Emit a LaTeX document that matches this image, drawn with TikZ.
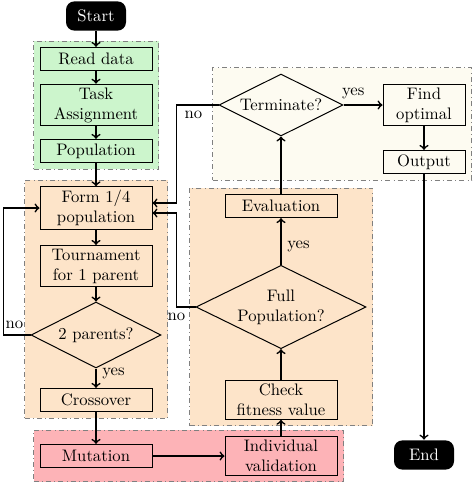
\documentclass[tikz,border=0pt]{standalone}
\usepackage[dvipsnames]{xcolor}
\usetikzlibrary{shapes,calc,fit,backgrounds}

\definecolor{greenbg}{HTML}{CCF5CC}
\definecolor{orangebg}{HTML}{FDE4C9}
\definecolor{pinkbg}{HTML}{FDB3B7}
\definecolor{creambg}{HTML}{FDFBF1}

\begin{document}
\begin{tikzpicture}[->,>=to,line width=1pt,x=0.6pt,y=-0.6pt,
    box node/.style={semithick,draw,rectangle,align=center,minimum width=67.2pt,minimum height=14pt,inner sep=2pt},
    test node/.style={semithick,draw,diamond,aspect=2,align=center,inner sep=0pt},
    end node/.style={rectangle,rounded corners=5pt,fill=black,text=white,minimum width=36pt,minimum height=17.5pt},
    group box/.style={draw=gray,thin,dash dot,inner sep=3.6pt}]

                \useasboundingbox (0,0) rectangle (474,484);

                % left column
                \node[end node] (start) at (96,16) {Start};
                \node[box node] (read) at (96,59) {Read data};
                \node[box node] (task) at (96,105) {Task\\Assignment};
                \node[box node] (pop) at (96,151) {Population};
                \node[box node] (form) at (96,208) {Form 1/4\\population};
                \node[box node] (tour) at (96,266) {Tournament\\for 1 parent};
                \node[test node,minimum width=78pt,minimum height=39.6pt] (two) at (96,335) {2 parents?};
                \node[box node] (cross) at (96,400) {Crossover};
                \node[box node] (mut) at (96,456) {Mutation};

                % middle column
                \node[box node] (ind) at (281,456) {Individual\\validation};
                \node[box node] (check) at (281,400) {Check\\fitness value};
                \node[test node,minimum width=102pt,minimum height=50pt] (full) at (281,307) {Full\\Population?};
                \node[box node] (eval) at (281,206) {Evaluation};
                \node[test node,minimum width=74.4pt,minimum height=37.2pt] (term) at (281,105) {Terminate?};

                % right column
                \node[box node,minimum width=49.2pt] (find) at (424,105) {Find\\optimal};
                \node[box node,minimum width=49.2pt] (out) at (424,162) {Output};
                \node[end node] (stop) at (424,455) {End};

                \begin{scope}[on background layer]
                    \node[group box,fill=greenbg,fit=(read)(pop)] (init) {};
                    \node[group box,fill=orangebg,fit=(form)(two)(cross)] (select) {};
                    \node[group box,fill=orangebg,fit=(eval)(full)(check)] (fitness) {};
                    \node[group box,fill=pinkbg,fit=(mut)(ind)] (modify) {};
                    \node[group box,fill=creambg,fit=(term)(find)(out)] (finish) {};
                \end{scope}

                \foreach \from/\to in {start/read,read/task,task/pop,pop/form,form/tour,tour/two,
                    cross/mut,mut/ind,ind/check,check/full,eval/term,find/out,out/stop}{
                    \path (\from) edge (\to);
                }

                \path
                    (two) edge node[right,pos=0.25]{yes} (cross)
                    (full) edge node[right,pos=0.4]{yes} (eval)
                    (term) edge node[above,pos=0.25]{yes} (find)
                ;

                \draw (term.west) -- node[below,pos=0.6]{no} ++(-42,0) |- ([yshift=3pt]form.east);
                \draw (full.west) -- ++(-19,0) node[below]{no} |- ([yshift=-3pt]form.east);
                \draw (two.west) -- node[above,pos=0.6]{no} ++(-27,0) |- (form.west);

            \end{tikzpicture}
\end{document}
